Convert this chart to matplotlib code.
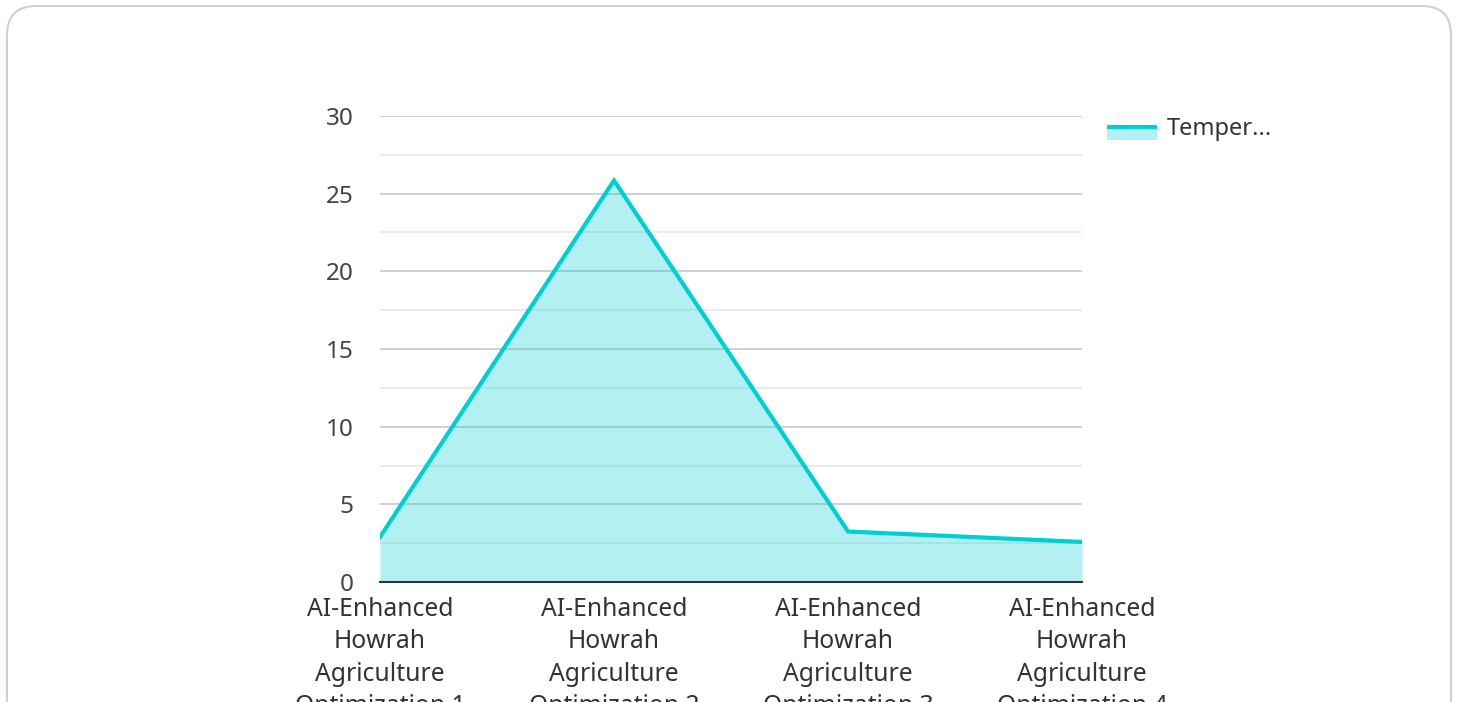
import matplotlib
matplotlib.use("Agg")
import matplotlib.pyplot as plt
from matplotlib.patches import FancyBboxPatch, Rectangle
from matplotlib.lines import Line2D
import numpy as np

plt.rcParams['font.family'] = ['Noto Sans', 'DejaVu Sans']

categories = ["AI-Enhanced\nHowrah\nAgriculture\nOptimization 1",
              "AI-Enhanced\nHowrah\nAgriculture\nOptimization 2",
              "AI-Enhanced\nHowrah\nAgriculture\nOptimization 3",
              "AI-Enhanced\nHowrah\nAgriculture\nOptimization 4"]
values = [2.9, 25.85, 3.25, 2.58]
yticks = [0, 5, 10, 15, 20, 25, 30]
legend_label = "Temper..."

W, H = 1458, 702
fig = plt.figure(figsize=(W / 100, H / 100), dpi=100)
fig.patch.set_facecolor("white")

# card border
card = FancyBboxPatch((7 / W, -0.2), (1451 - 7) / W, (H - 6) / H + 0.2,
                      boxstyle="round,pad=0,rounding_size=0.02",
                      transform=fig.transFigure, facecolor="white",
                      edgecolor="#d0d0d0", linewidth=1.5, mutation_aspect=W / H,
                      zorder=-10)
fig.patches.append(card)

ax = fig.add_axes([380 / W, 1 - 582 / H, (1082 - 380) / W, (582 - 116) / H])
ax.set_zorder(5)
ax.set_facecolor("none")
x = np.arange(len(categories))
line_color = "#00CED1"
ax.fill_between(x, values, 0, color=line_color, alpha=0.3, linewidth=0, zorder=2)
ax.plot(x, values, color=line_color, linewidth=3, zorder=3, solid_joinstyle="miter")

ax.set_xlim(0, len(categories) - 1)
ax.set_ylim(0, 30)
ax.set_yticks(yticks)
ax.set_yticks(np.arange(2.5, 30, 5), minor=True)
ax.set_xticks(x)
ax.set_xticklabels(categories, fontsize=17.8, color="#333333", linespacing=1.38)
ax.tick_params(axis="y", labelsize=17.5, labelcolor="#444444", length=0, pad=19)
ax.tick_params(axis="y", which="minor", length=0)
ax.tick_params(axis="x", length=0, pad=11)
ax.grid(axis="y", which="major", color="#c8c8c8", linewidth=1.2, zorder=1)
ax.grid(axis="y", which="minor", color="#e8e8e8", linewidth=1.2, zorder=1)
ax.set_axisbelow(True)
for s in ["top", "right", "left"]:
    ax.spines[s].set_visible(False)
ax.spines["bottom"].set_color("#333333")
ax.spines["bottom"].set_linewidth(1.5)
ax.spines["bottom"].set_zorder(4)

# legend
fig.patches.append(Rectangle((1107 / W, 1 - 140 / H), 50 / W, 14 / H,
                             transform=fig.transFigure, facecolor=line_color,
                             alpha=0.3, edgecolor="none", zorder=2))
fig.lines.append(Line2D([1107 / W, 1157 / W], [1 - 127 / H, 1 - 127 / H],
                        transform=fig.transFigure, color=line_color, linewidth=3,
                        solid_capstyle="butt", zorder=3))
fig.text(1167 / W, 1 - 129 / H, legend_label, fontsize=17, color="#333333",
         va="center", ha="left")

fig.savefig("out.png", dpi=100)
